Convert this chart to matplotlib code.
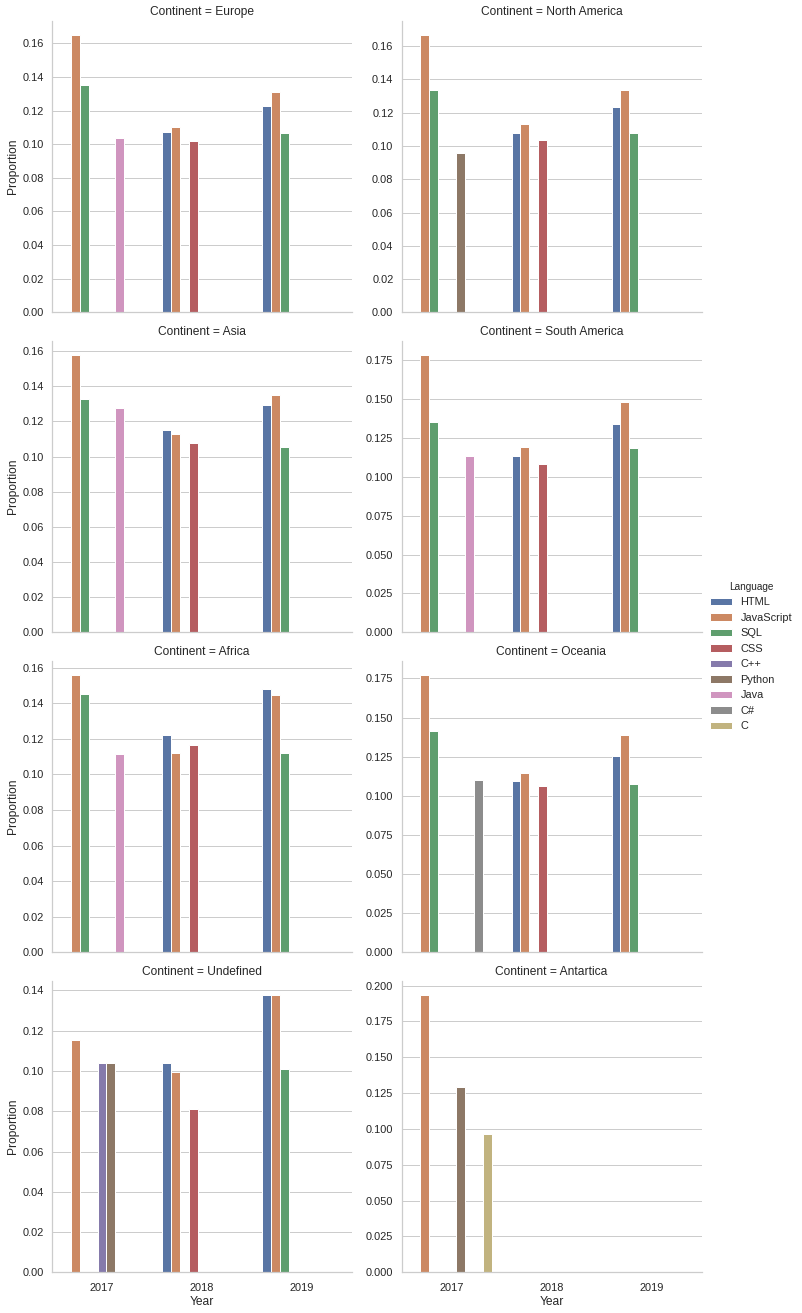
import numpy as np
import matplotlib
matplotlib.use("Agg")
import matplotlib.pyplot as plt
import seaborn as sns

sns.set_theme(style="whitegrid")
plt.rcParams['font.family'] = ['Liberation Sans', 'DejaVu Sans']

years = ["2017", "2018", "2019"]
languages = ["HTML", "JavaScript", "SQL", "CSS", "C++", "Python", "Java", "C#", "C"]
continents = ["Europe", "North America", "Asia", "South America",
              "Africa", "Oceania", "Undefined", "Antartica"]

n = np.nan
# rows = years, columns = languages (same order as above)
europe = [[n, 0.1650, 0.1352, n, n, n, 0.1039, n, n],
          [0.1073, 0.1103, n, 0.1019, n, n, n, n, n],
          [0.1228, 0.1311, 0.1067, n, n, n, n, n, n]]
north_america = [[n, 0.1668, 0.1337, n, n, 0.0958, n, n, n],
                 [0.1079, 0.1133, n, 0.1036, n, n, n, n, n],
                 [0.1235, 0.1337, 0.1079, n, n, n, n, n, n]]
asia = [[n, 0.1579, 0.1329, n, n, n, 0.1277, n, n],
        [0.1152, 0.1129, n, 0.1078, n, n, n, n, n],
        [0.1294, 0.1351, 0.1055, n, n, n, n, n, n]]
south_america = [[n, 0.1786, 0.1355, n, n, n, 0.1136, n, n],
                 [0.1136, 0.1194, n, 0.1084, n, n, n, n, n],
                 [0.1342, 0.1483, 0.1187, n, n, n, n, n, n]]
africa = [[n, 0.1559, 0.1454, n, n, n, 0.1115, n, n],
          [0.1222, 0.1121, n, 0.1166, n, n, n, n, n],
          [0.1480, 0.1447, 0.1121, n, n, n, n, n, n]]
oceania = [[n, 0.1773, 0.1415, n, n, n, n, 0.1102, n],
           [0.1095, 0.1147, n, 0.1063, n, n, n, n, n],
           [0.1255, 0.1389, 0.1076, n, n, n, n, n, n]]
undefined = [[n, 0.1155, n, n, 0.1039, 0.1039, n, n, n],
             [0.1039, 0.0996, n, 0.0812, n, n, n, n, n],
             [0.1378, 0.1378, 0.1009, n, n, n, n, n, n]]
antartica = [[n, 0.1935, n, n, n, 0.1290, n, n, 0.0968],
             [n, n, n, n, n, n, n, n, n],
             [n, n, n, n, n, n, n, n, n]]

values = [europe, north_america, asia, south_america,
          africa, oceania, undefined, antartica]

colors = sns.color_palette("deep", len(languages), desat=0.75)

W, H = 802, 1313
fig = plt.figure(figsize=(W / 72, H / 72), dpi=72)

col_left = [52, 401.5]
row_top = [21, 341, 661, 981]
ax_w, ax_h = 300, 291.3

width = 0.8 / len(languages)
x = np.arange(len(years))

handles = []
for k, (name, data) in enumerate(zip(continents, values)):
    r, c = divmod(k, 2)
    ax = fig.add_axes([col_left[c] / W, 1 - (row_top[r] + ax_h) / H, ax_w / W, ax_h / H])
    data = np.array(data, dtype=float)
    for j, lang in enumerate(languages):
        h = ax.bar(x + (j - (len(languages) - 1) / 2) * width, np.nan_to_num(data[:, j]),
                   width=width, color=colors[j], label=lang)
        if k == 0:
            handles.append(h)
    ax.set_xlim(-0.5, 2.5)
    ax.set_xticks(x)
    ax.grid(False, axis="x")
    ax.set_title("Continent = " + name, fontsize=12)
    ax.tick_params(axis="y", labelsize=11, length=0, pad=8)
    ax.tick_params(axis="x", labelsize=11, length=0, pad=11)
    sns.despine(ax=ax)
    if c == 0:
        ax.set_ylabel("Proportion", fontsize=12)
    if r == 3:
        ax.set_xticklabels(years)
        ax.set_xlabel("Year", fontsize=12, labelpad=3)
    else:
        ax.set_xticklabels([])

fig.legend(handles, languages, title="Language", loc="center right",
           bbox_to_anchor=(1.0, 0.5), frameon=False, fontsize=11, title_fontsize=10)

fig.savefig("out.png", dpi=72)
